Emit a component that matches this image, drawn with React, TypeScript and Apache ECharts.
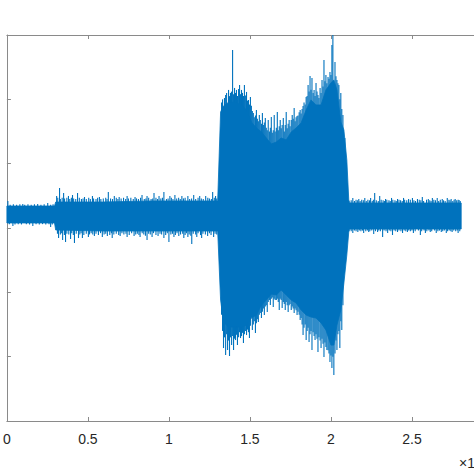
import React, { useEffect, useRef } from "react";
import * as echarts from "echarts";

// x in units of 10^4 samples, y in arbitrary amplitude units (ticks every 1)
const xTicks = [0, 0.5, 1, 1.5, 2, 2.5];
const exponentLabel = "4";

// dense core envelope of the waveform
const coreX = [0, 0.294, 0.301, 0.589, 0.896, 1.202, 1.301, 1.319, 1.337, 1.362, 1.387, 1.417, 1.448, 1.479, 1.509, 1.54, 1.571, 1.601, 1.632, 1.663, 1.693, 1.724, 1.755, 1.785, 1.816, 1.847, 1.877, 1.908, 1.939, 1.969, 2.0, 2.018, 2.037, 2.061, 2.08, 2.098, 2.11, 2.117, 2.429, 2.804];
const coreTop = [0.342, 0.342, 0.404, 0.404, 0.42, 0.42, 0.42, 1.804, 1.897, 1.944, 1.96, 1.944, 1.913, 1.835, 1.649, 1.555, 1.493, 1.4, 1.306, 1.337, 1.4, 1.369, 1.493, 1.555, 1.633, 1.835, 1.991, 1.913, 1.913, 2.146, 2.255, 2.302, 2.146, 1.649, 1.524, 1.058, 0.435, 0.389, 0.389, 0.389];
const coreBottom = [0.078, 0.078, -0.031, -0.047, -0.047, -0.047, -0.047, -1.12, -1.462, -1.524, -1.54, -1.54, -1.54, -1.509, -1.4, -1.353, -1.198, -1.12, -1.026, -1.042, -0.964, -1.042, -1.12, -1.166, -1.275, -1.353, -1.384, -1.4, -1.477, -1.586, -1.82, -1.82, -1.509, -1.275, -0.855, -0.42, -0.062, -0.016, -0.016, -0.016];

const spikeBase = 0.2;

// spike tips [x, y]
const quietATop = [[0.006, 0.42], [0.098, 0.373], [0.19, 0.373], [0.252, 0.389], [0.02, 0.36], [0.04, 0.37], [0.06, 0.36], [0.08, 0.37], [0.11, 0.36], [0.13, 0.37], [0.15, 0.36], [0.17, 0.37], [0.21, 0.36], [0.23, 0.37], [0.27, 0.36], [0.285, 0.37]];
const quietABottom = [[0.037, 0.031], [0.16, 0.031], [0.27, 0.016], [0.015, 0.06], [0.05, 0.055], [0.07, 0.06], [0.09, 0.055], [0.12, 0.06], [0.14, 0.055], [0.18, 0.06], [0.2, 0.055], [0.22, 0.06], [0.24, 0.055], [0.26, 0.06], [0.28, 0.055]];
const midTop = [[0.307, 0.498], [0.325, 0.622], [0.35, 0.544], [0.38, 0.498], [0.405, 0.513], [0.436, 0.544], [0.479, 0.482], [0.528, 0.498], [0.571, 0.482], [0.626, 0.56], [0.663, 0.498], [0.693, 0.482], [0.742, 0.498], [0.791, 0.482], [0.834, 0.513], [0.865, 0.498], [0.908, 0.544], [0.939, 0.498], [0.969, 0.56], [1.006, 0.498], [1.037, 0.513], [1.08, 0.498], [1.117, 0.498], [1.153, 0.513], [1.19, 0.498], [1.227, 0.498], [1.27, 0.56], [1.288, 0.498]];
const midTopFringe = [[0.314, 0.47], [0.33, 0.45], [0.341, 0.47], [0.356, 0.46], [0.37, 0.47], [0.388, 0.45], [0.398, 0.47], [0.412, 0.46], [0.425, 0.45], [0.447, 0.47], [0.46, 0.45], [0.47, 0.46], [0.49, 0.45], [0.505, 0.47], [0.515, 0.45], [0.535, 0.46], [0.55, 0.45], [0.56, 0.47], [0.58, 0.45], [0.595, 0.46], [0.61, 0.47], [0.618, 0.45], [0.64, 0.46], [0.652, 0.45], [0.675, 0.47], [0.685, 0.45], [0.705, 0.46], [0.72, 0.47], [0.733, 0.45], [0.75, 0.46], [0.765, 0.47], [0.78, 0.45], [0.8, 0.46], [0.812, 0.45], [0.825, 0.47], [0.848, 0.45], [0.858, 0.46], [0.875, 0.47], [0.89, 0.45], [0.9, 0.46], [0.92, 0.47], [0.93, 0.45], [0.95, 0.46], [0.96, 0.47], [0.985, 0.45], [0.995, 0.46], [1.015, 0.47], [1.025, 0.45], [1.048, 0.46], [1.06, 0.47], [1.07, 0.45], [1.09, 0.46], [1.1, 0.47], [1.128, 0.45], [1.14, 0.46], [1.165, 0.45], [1.18, 0.47], [1.2, 0.46], [1.212, 0.45], [1.24, 0.47], [1.25, 0.46], [1.262, 0.45], [1.28, 0.47], [1.295, 0.46]];
const midBottom = [[0.319, -0.156], [0.344, -0.187], [0.362, -0.218], [0.393, -0.171], [0.417, -0.233], [0.442, -0.156], [0.466, -0.156], [0.503, -0.14], [0.54, -0.124], [0.589, -0.14], [0.62, -0.124], [0.65, -0.156], [0.699, -0.124], [0.742, -0.14], [0.785, -0.124], [0.822, -0.14], [0.865, -0.187], [0.896, -0.14], [0.933, -0.124], [0.969, -0.156], [1.0, -0.218], [1.031, -0.14], [1.061, -0.124], [1.092, -0.156], [1.117, -0.14], [1.141, -0.249], [1.172, -0.14], [1.202, -0.156], [1.239, -0.124], [1.276, -0.14]];
const midBottomFringe = [[0.312, -0.09], [0.33, -0.1], [0.338, -0.08], [0.355, -0.11], [0.37, -0.09], [0.382, -0.1], [0.4, -0.08], [0.41, -0.11], [0.428, -0.09], [0.45, -0.1], [0.458, -0.08], [0.475, -0.11], [0.49, -0.09], [0.51, -0.1], [0.52, -0.08], [0.53, -0.1], [0.55, -0.09], [0.565, -0.11], [0.578, -0.08], [0.6, -0.1], [0.61, -0.09], [0.635, -0.11], [0.645, -0.08], [0.66, -0.1], [0.675, -0.09], [0.69, -0.11], [0.71, -0.08], [0.722, -0.1], [0.735, -0.09], [0.755, -0.11], [0.77, -0.08], [0.795, -0.1], [0.805, -0.09], [0.815, -0.11], [0.835, -0.08], [0.845, -0.1], [0.855, -0.12], [0.875, -0.09], [0.885, -0.1], [0.905, -0.08], [0.92, -0.11], [0.945, -0.09], [0.955, -0.1], [0.98, -0.11], [0.99, -0.08], [1.012, -0.1], [1.022, -0.09], [1.04, -0.11], [1.05, -0.08], [1.072, -0.1], [1.085, -0.09], [1.1, -0.11], [1.108, -0.08], [1.125, -0.1], [1.135, -0.12], [1.15, -0.09], [1.165, -0.1], [1.18, -0.08], [1.195, -0.11], [1.21, -0.09], [1.225, -0.1], [1.25, -0.08], [1.26, -0.11], [1.285, -0.09], [1.295, -0.1]];
const loudTop = [[1.35, 2.068], [1.368, 2.146], [1.38, 2.099], [1.393, 2.768], [1.405, 2.177], [1.417, 2.146], [1.436, 2.224], [1.448, 2.146], [1.466, 2.224], [1.479, 2.115], [1.491, 1.99], [1.503, 2.037], [1.521, 1.788], [1.54, 1.835], [1.558, 1.757], [1.577, 1.788], [1.595, 1.711], [1.613, 1.679], [1.632, 1.726], [1.65, 1.757], [1.669, 1.804], [1.687, 1.679], [1.706, 1.711], [1.724, 1.804], [1.742, 1.679], [1.761, 1.757], [1.773, 1.866], [1.791, 1.742], [1.81, 1.835], [1.828, 1.897], [1.847, 2.037], [1.859, 2.224], [1.871, 2.364], [1.883, 2.333], [1.896, 2.146], [1.908, 2.255], [1.92, 2.068], [1.933, 2.177], [1.945, 2.301], [1.957, 2.612], [1.969, 2.379], [1.982, 2.348], [1.994, 2.426], [2.006, 2.846], [2.012, 3.0], [2.025, 2.581], [2.037, 2.301], [2.049, 2.224], [2.061, 2.099], [2.074, 1.757]];
const loudTopFringe = [[1.325, 1.95], [1.331, 2.0], [1.343, 2.02], [1.356, 2.1], [1.374, 2.05], [1.386, 2.12], [1.399, 2.08], [1.411, 2.1], [1.423, 2.05], [1.43, 2.16], [1.442, 2.08], [1.454, 2.1], [1.46, 2.05], [1.472, 2.06], [1.485, 1.98], [1.497, 1.92], [1.509, 1.9], [1.515, 1.82], [1.527, 1.72], [1.534, 1.75], [1.546, 1.7], [1.552, 1.66], [1.564, 1.68], [1.571, 1.62], [1.583, 1.6], [1.589, 1.64], [1.601, 1.56], [1.607, 1.52], [1.62, 1.5], [1.626, 1.56], [1.638, 1.48], [1.644, 1.52], [1.656, 1.5], [1.663, 1.56], [1.675, 1.52], [1.681, 1.58], [1.693, 1.55], [1.699, 1.6], [1.712, 1.5], [1.718, 1.6], [1.73, 1.55], [1.736, 1.62], [1.748, 1.58], [1.755, 1.68], [1.767, 1.7], [1.779, 1.66], [1.785, 1.72], [1.797, 1.75], [1.804, 1.8], [1.816, 1.78], [1.822, 1.85], [1.834, 1.95], [1.841, 1.92], [1.853, 2.05], [1.865, 2.12], [1.877, 2.15], [1.89, 2.1], [1.902, 2.05], [1.914, 2.12], [1.926, 2.02], [1.939, 2.1], [1.951, 2.2], [1.963, 2.28], [1.975, 2.25], [1.988, 2.32], [2.0, 2.38], [2.031, 2.36], [2.043, 2.25], [2.055, 2.0], [2.067, 1.85], [2.086, 1.4]];
const loudBottom = [[1.337, -1.866], [1.35, -1.975], [1.362, -1.897], [1.374, -1.99], [1.387, -1.819], [1.399, -1.897], [1.411, -1.742], [1.423, -1.819], [1.442, -1.711], [1.46, -1.788], [1.479, -1.664], [1.497, -1.711], [1.515, -1.586], [1.534, -1.633], [1.552, -1.462], [1.571, -1.4], [1.589, -1.353], [1.607, -1.306], [1.626, -1.197], [1.644, -1.228], [1.663, -1.12], [1.681, -1.275], [1.699, -1.244], [1.718, -1.275], [1.736, -1.306], [1.755, -1.275], [1.773, -1.322], [1.791, -1.353], [1.81, -1.431], [1.828, -1.664], [1.847, -1.742], [1.865, -1.773], [1.883, -1.897], [1.902, -1.742], [1.92, -1.928], [1.939, -1.866], [1.957, -2.006], [1.975, -1.897], [1.994, -2.084], [2.006, -2.177], [2.018, -2.286], [2.037, -1.897], [2.055, -1.866], [2.067, -1.586]];
const loudBottomFringe = [[1.325, -1.35], [1.331, -1.6], [1.343, -1.7], [1.356, -1.65], [1.368, -1.75], [1.38, -1.7], [1.393, -1.68], [1.405, -1.72], [1.417, -1.66], [1.43, -1.7], [1.436, -1.62], [1.448, -1.68], [1.454, -1.63], [1.466, -1.65], [1.472, -1.6], [1.485, -1.58], [1.491, -1.62], [1.503, -1.52], [1.521, -1.5], [1.527, -1.45], [1.54, -1.48], [1.546, -1.42], [1.558, -1.35], [1.564, -1.32], [1.577, -1.3], [1.583, -1.25], [1.595, -1.22], [1.601, -1.2], [1.613, -1.15], [1.62, -1.12], [1.632, -1.1], [1.638, -1.08], [1.65, -1.1], [1.656, -1.12], [1.669, -1.1], [1.675, -1.15], [1.687, -1.1], [1.693, -1.12], [1.706, -1.15], [1.712, -1.18], [1.724, -1.15], [1.73, -1.2], [1.742, -1.2], [1.748, -1.18], [1.761, -1.22], [1.767, -1.25], [1.779, -1.25], [1.785, -1.28], [1.797, -1.3], [1.804, -1.35], [1.816, -1.4], [1.822, -1.5], [1.834, -1.55], [1.841, -1.5], [1.853, -1.6], [1.859, -1.55], [1.871, -1.65], [1.877, -1.6], [1.89, -1.62], [1.896, -1.68], [1.908, -1.65], [1.914, -1.72], [1.926, -1.7], [1.933, -1.75], [1.945, -1.72], [1.951, -1.8], [1.963, -1.78], [1.969, -1.85], [1.982, -1.9], [1.988, -1.95], [2.0, -1.98], [2.012, -2.0], [2.025, -1.95], [2.031, -1.75], [2.043, -1.65], [2.049, -1.6], [2.061, -1.45], [2.074, -1.2]];
const quietCTop = [[2.135, 0.467], [2.172, 0.451], [2.209, 0.467], [2.245, 0.467], [2.27, 0.544], [2.301, 0.498], [2.337, 0.451], [2.374, 0.467], [2.411, 0.451], [2.448, 0.467], [2.479, 0.451], [2.503, 0.467], [2.534, 0.451], [2.564, 0.482], [2.601, 0.451], [2.626, 0.467], [2.656, 0.467], [2.687, 0.451], [2.718, 0.467], [2.742, 0.451], [2.767, 0.451], [2.791, 0.435]];
const quietCTopFringe = [[2.125, 0.43], [2.145, 0.42], [2.155, 0.44], [2.165, 0.43], [2.18, 0.42], [2.19, 0.44], [2.2, 0.43], [2.218, 0.42], [2.228, 0.44], [2.238, 0.43], [2.255, 0.42], [2.262, 0.44], [2.28, 0.43], [2.292, 0.42], [2.31, 0.44], [2.322, 0.43], [2.33, 0.42], [2.345, 0.44], [2.358, 0.43], [2.366, 0.42], [2.382, 0.44], [2.395, 0.43], [2.403, 0.42], [2.42, 0.44], [2.43, 0.43], [2.44, 0.42], [2.455, 0.44], [2.468, 0.43], [2.49, 0.44], [2.512, 0.43], [2.522, 0.42], [2.545, 0.44], [2.555, 0.43], [2.572, 0.42], [2.59, 0.44], [2.61, 0.43], [2.618, 0.42], [2.635, 0.44], [2.645, 0.43], [2.665, 0.42], [2.675, 0.44], [2.695, 0.43], [2.705, 0.42], [2.728, 0.44], [2.735, 0.43], [2.752, 0.42], [2.76, 0.44], [2.776, 0.43], [2.785, 0.44], [2.798, 0.42]];
const quietCBottom = [[2.135, -0.078], [2.166, -0.062], [2.202, -0.078], [2.233, -0.062], [2.264, -0.093], [2.288, -0.062], [2.319, -0.14], [2.35, -0.078], [2.38, -0.109], [2.411, -0.062], [2.442, -0.078], [2.472, -0.062], [2.509, -0.078], [2.552, -0.109], [2.583, -0.078], [2.613, -0.062], [2.65, -0.078], [2.681, -0.062], [2.712, -0.078], [2.748, -0.062], [2.785, -0.078]];
const quietCBottomFringe = [[2.125, -0.05], [2.145, -0.04], [2.155, -0.05], [2.175, -0.04], [2.185, -0.05], [2.195, -0.04], [2.215, -0.05], [2.225, -0.04], [2.24, -0.05], [2.252, -0.04], [2.275, -0.05], [2.295, -0.04], [2.305, -0.05], [2.328, -0.04], [2.34, -0.05], [2.36, -0.04], [2.37, -0.05], [2.39, -0.04], [2.4, -0.05], [2.42, -0.04], [2.432, -0.05], [2.452, -0.04], [2.462, -0.05], [2.48, -0.04], [2.49, -0.05], [2.5, -0.04], [2.52, -0.05], [2.54, -0.04], [2.56, -0.05], [2.575, -0.04], [2.592, -0.05], [2.605, -0.04], [2.622, -0.05], [2.64, -0.04], [2.66, -0.05], [2.67, -0.04], [2.69, -0.05], [2.7, -0.04], [2.72, -0.05], [2.73, -0.04], [2.74, -0.05], [2.758, -0.04], [2.77, -0.05], [2.78, -0.04], [2.795, -0.05]];

const BLUE = "#0072BD";
const AXIS = "#8a8a8a";
const FONT = "'Liberation Sans', Arial, sans-serif";

export default function App() {
  const ref = useRef<HTMLDivElement>(null);
  useEffect(() => {
    if (!ref.current) return;
    const chart = echarts.init(ref.current, undefined, { renderer: "svg" });
    const band = coreX.map((x, i) => [x, coreBottom[i], coreTop[i]]);
    const spikes = [
      ...quietATop, ...quietABottom, ...midTop, ...midTopFringe, ...midBottom, ...midBottomFringe,
      ...loudTop, ...loudTopFringe, ...loudBottom, ...loudBottomFringe,
      ...quietCTop, ...quietCTopFringe, ...quietCBottom, ...quietCBottomFringe,
    ];
    const xMax = 2.883;
    const axisCommon = {
      axisLine: { show: true, onZero: false, lineStyle: { color: AXIS, width: 1 } },
      axisTick: { show: true, inside: true, length: 4, lineStyle: { color: AXIS } },
      splitLine: { show: false },
    };
    chart.setOption({
      animation: false,
      grid: { left: 4, right: 0, top: 35, bottom: 53, containLabel: false },
      xAxis: [
        {
          type: "value", min: 0, max: xMax, interval: 0.5, position: "bottom",
          ...axisCommon,
          axisLabel: {
            show: true, showMaxLabel: false, color: "#262626", fontSize: 14, fontFamily: FONT, margin: 11,
            formatter: (v: number) => (xTicks.some((t) => Math.abs(t - v) < 1e-6) ? String(v) : ""),
          },
        },
        {
          type: "value", min: 0, max: xMax, interval: 0.5, position: "top",
          ...axisCommon,
          axisLabel: { show: false },
        },
      ],
      yAxis: {
        type: "value", min: -3, max: 3, interval: 1,
        ...axisCommon,
        axisLabel: { show: false },
      },
      graphic: [
        {
          type: "text", left: 459, top: 456,
          style: {
            text: "×10{e|" + exponentLabel + "}",
            fill: "#262626", font: "14px " + FONT,
            rich: { e: { fontSize: 10, verticalAlign: "top", fill: "#262626", fontFamily: FONT } },
          },
        },
      ],
      series: [
        {
          type: "custom",
          xAxisIndex: 0,
          clip: true,
          data: spikes,
          encode: { x: 0, y: 1 },
          renderItem: (params: any, api: any) => {
            const x = api.value(0);
            const a = api.coord([x, spikeBase]);
            const b = api.coord([x, api.value(1)]);
            return {
              type: "line",
              shape: { x1: a[0], y1: a[1], x2: b[0], y2: b[1] },
              style: { stroke: BLUE, lineWidth: 1.1, opacity: 1 },
            };
          },
        },
        {
          type: "custom",
          xAxisIndex: 0,
          clip: true,
          data: band,
          encode: { x: 0, y: [1, 2] },
          renderItem: (params: any, api: any) => {
            if (params.dataIndex !== 0) return { type: "group", children: [] };
            const upper = band.map((d) => api.coord([d[0], d[2]]));
            const lower = band.map((d) => api.coord([d[0], d[1]])).reverse();
            return {
              type: "polygon",
              shape: { points: upper.concat(lower) },
              style: { fill: BLUE, stroke: BLUE, lineWidth: 0.8 },
            };
          },
        },
      ],
    });
    return () => chart.dispose();
  }, []);
  return (
    <div style={{ position: "fixed", left: 0, top: 0, width: 474, height: 474, overflow: "hidden", background: "#fff" }}>
      <div ref={ref} style={{ width: 474, height: 474 }} />
    </div>
  );
}
